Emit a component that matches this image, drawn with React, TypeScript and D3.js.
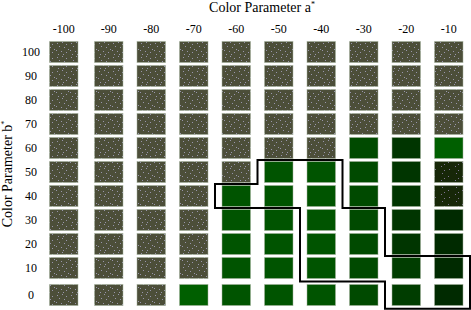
import * as d3 from 'd3';

const aValues = [-100, -90, -80, -70, -60, -50, -40, -30, -20, -10];
const bValues = [100, 90, 80, 70, 60, 50, 40, 30, 20, 10, 0];

// look of each patch: n = grey noise, d = dark noise, 1..6 = greens (light -> dark)
const patchRows = [
  ['n', 'n', 'n', 'n', 'n', 'n', 'n', 'n', 'n', 'n'], // 100
  ['n', 'n', 'n', 'n', 'n', 'n', 'n', 'n', 'n', 'n'], // 90
  ['n', 'n', 'n', 'n', 'n', 'n', 'n', 'n', 'n', 'n'], // 80
  ['n', 'n', 'n', 'n', 'n', 'n', 'n', 'n', 'n', 'n'], // 70
  ['n', 'n', 'n', 'n', 'n', 'n', 'n', '3', '5', '1'], // 60
  ['n', 'n', 'n', 'n', 'n', '2', '2', '3', '5', 'd'], // 50
  ['n', 'n', 'n', 'n', '2', '2', '2', '3', '5', 'd'], // 40
  ['n', 'n', 'n', 'n', '2', '2', '2', '3', '5', '6'], // 30
  ['n', 'n', 'n', 'n', '2', '2', '2', '3', '5', '6'], // 20
  ['n', 'n', 'n', 'n', '2', '2', '2', '3', '4', '6'], // 10
  ['n', 'n', 'n', '1', '2', '2', '2', '3', '4', '6'], // 0
];

// patches inside the black outline, [a, b]
const outlined = [
  [-50, 50], [-40, 50],
  [-60, 40], [-50, 40], [-40, 40],
  [-40, 30], [-30, 30],
  [-40, 20], [-30, 20],
  [-40, 10], [-30, 10], [-20, 10], [-10, 10],
  [-20, 0], [-10, 0],
];

const fills: Record<string, string> = {
  n: 'url(#noise)',
  d: 'url(#darkNoise)',
  '1': '#005f00',
  '2': '#005400',
  '3': '#004a00',
  '4': '#003d00',
  '5': '#003500',
  '6': '#002a00',
};

// texture dots inside one pattern tile
const noiseDots = [[1, 1], [6, 0], [10, 2], [3, 4], [8, 5], [12, 7], [0, 8], [5, 9], [10, 10], [2, 12], [7, 12]];

const W = 471;
const H = 310;

export default function App() {
  const x = d3.scaleBand<number>().domain(aValues).range([43, 472]).paddingInner(0.306).paddingOuter(0.2);
  const y = d3.scaleBand<number>().domain(bValues).range([29, 315]).paddingInner(0.0833).paddingOuter(0.5);

  // first column and last row sit a little further out
  const cx = (a: number) => (x(a) as number) + (a === aValues[0] ? -2.5 : 0);
  const cy = (b: number) => (y(b) as number) + (b === bValues[bValues.length - 1] ? 3 : 0);
  const bw = x.bandwidth();
  const bh = y.bandwidth();

  const inSet = (a: number, b: number) => outlined.some(([p, q]) => p === a && q === b);
  const left = (i: number) => (i > 0 ? (cx(aValues[i - 1]) + bw + cx(aValues[i])) / 2 : cx(aValues[i]) - 6.5);
  const right = (i: number) => (i < aValues.length - 1 ? (cx(aValues[i]) + bw + cx(aValues[i + 1])) / 2 : cx(aValues[i]) + bw + 6.5);
  const top = (j: number) => (j > 0 ? (cy(bValues[j - 1]) + bh + cy(bValues[j])) / 2 : cy(bValues[j]) - 1);
  const bottom = (j: number) => (j < bValues.length - 1 ? (cy(bValues[j]) + bh + cy(bValues[j + 1])) / 2 : cy(bValues[j]) + bh + 2.7);

  const path = d3.path();
  outlined.forEach(([a, b]) => {
    const i = aValues.indexOf(a);
    const j = bValues.indexOf(b);
    const l = left(i), r = right(i), t = top(j), bo = bottom(j);
    if (!inSet(a, b + 10)) { path.moveTo(l, t); path.lineTo(r, t); }
    if (!inSet(a, b - 10)) { path.moveTo(l, bo); path.lineTo(r, bo); }
    if (!inSet(a - 10, b)) { path.moveTo(l, t); path.lineTo(l, bo); }
    if (!inSet(a + 10, b)) { path.moveTo(r, t); path.lineTo(r, bo); }
  });

  const font = '"Liberation Serif", "Times New Roman", serif';

  return (
    <svg width={W} height={H} style={{ position: 'absolute', left: 0, top: 0, background: '#fff' }} fontFamily={font}>
      <defs>
        <pattern id="noise" width={14} height={14} patternUnits="userSpaceOnUse">
          <rect width={14} height={14} fill="#4c4e39" />
          {noiseDots.map(([px, py], k) => (
            <rect key={k} x={px} y={py} width={1} height={1} fill="#9896ab" />
          ))}
        </pattern>
        <pattern id="darkNoise" width={14} height={14} patternUnits="userSpaceOnUse">
          <rect width={14} height={14} fill="#172708" />
          {noiseDots.filter((_, k) => k % 2 === 0).map(([px, py], k) => (
            <rect key={k} x={px} y={py} width={1} height={1} fill="#7d7390" />
          ))}
        </pattern>
      </defs>

      <text x={262} y={12} textAnchor="middle" fontSize={14}>
        Color Parameter a<tspan fontSize={8} dy={-5}>*</tspan>
      </text>
      <text transform="translate(12,174) rotate(-90)" textAnchor="middle" fontSize={14}>
        Color Parameter b<tspan fontSize={8} dy={-5}>*</tspan>
      </text>

      {aValues.map(a => (
        <text key={a} x={cx(a) + bw / 2} y={33} textAnchor="middle" fontSize={12}>{a}</text>
      ))}
      {bValues.map(b => (
        <text key={b} x={31} y={cy(b) + bh / 2 + 4} textAnchor="middle" fontSize={12}>{b}</text>
      ))}

      {bValues.map((b, j) =>
        aValues.map((a, i) => (
          <rect
            key={`${a}_${b}`}
            x={cx(a) + 0.5}
            y={cy(b) + 0.5}
            width={bw - 1}
            height={bh - 1}
            fill={fills[patchRows[j][i]]}
            stroke="#a3b19c"
            strokeOpacity={0.5}
            strokeWidth={1}
          />
        ))
      )}

      <path d={path.toString()} fill="none" stroke="#000" strokeWidth={2} strokeLinecap="square" />
    </svg>
  );
}
